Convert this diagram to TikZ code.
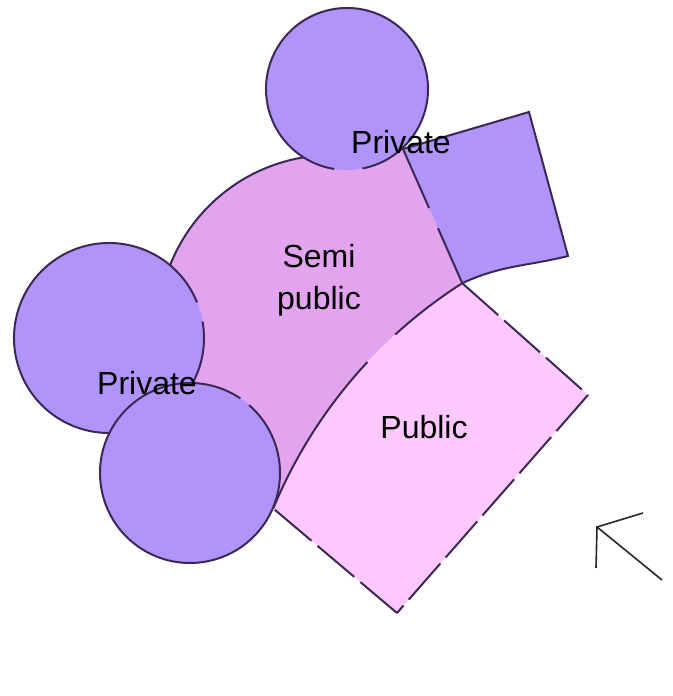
\documentclass[tikz,border=0pt]{standalone}
\usepackage{fontspec}
\setmainfont{Liberation Sans}
\usetikzlibrary{calc}
\definecolor{privfill}{RGB}{176,148,250}
\definecolor{semifill}{RGB}{226,164,238}
\definecolor{pubfill}{RGB}{255,200,255}
\definecolor{wallcol}{RGB}{60,40,85}
\tikzset{
every picture/.style={
line width=1pt
},
wall/.style={draw=wallcol, line width=1pt},
door/.style={wall, dash pattern=on 24pt off 4pt},
roomtext/.style={font=\fontsize{16}{21}\selectfont, align=center, inner sep=0pt},
northarrow/.style={draw=black!85, line width=0.8pt}
}
\begin{document}
\begin{tikzpicture}[x=0.5pt,y=0.5pt]
\useasboundingbox (0,0) rectangle (673,696);
\coordinate (semic) at (332,367);
\coordinate (pubc) at (725,0.4);
\coordinate (A) at (403,547);
\coordinate (B) at (529,584);
\coordinate (C) at (568,440);
\coordinate (D) at ([shift={(122.5:489)}]pubc);
\coordinate (L) at ([shift={(157.5:489)}]pubc);
\coordinate (R) at (588,301);
\coordinate (Bt) at (397,83);

\fill[semifill] ([shift={(170:174)}]semic) arc[start angle=170, end angle=95, radius=174] -- (A) -- (D) arc[start angle=122.5, end angle=157.5, radius=489] -- (190,223) -- (109,358) -- cycle;
\draw[wall] ([shift={(170:174)}]semic) arc[start angle=170, end angle=95, radius=174];

\fill[pubfill] (L) arc[start angle=157.5, end angle=122.5, radius=489] -- (R) -- (Bt) -- cycle;
\draw[wall] (L) arc[start angle=157.5, end angle=137, radius=489];
\draw[wall] ([shift={(132.4:489)}]pubc) arc[start angle=132.4, end angle=122.5, radius=489];
\draw[door] (D) -- (R);
\draw[door] (R) -- (Bt);
\draw[door] (Bt) -- (L);

\fill[privfill] (A) -- (B) -- (C) to[out=194,in=25] (D) -- cycle;
\draw[wall] ($(A)!0.44!(D)$) -- (A) -- (B) -- (C) to[out=194,in=25] (D) -- ($(A)!0.59!(D)$);

\foreach \cx/\cy/\r/\ga/\gz in {347/607/81/281/621, 109/358/95/22/370, 190/223/90/56/409}{
  \fill[privfill] (\cx,\cy) circle[radius=\r];
  \draw[wall] ([shift={(\ga:\r)}]\cx,\cy) arc[start angle=\ga, end angle=\gz, radius=\r];
}

\node[roomtext] (privtop) at (401,554) {Private};
\node[roomtext] (semi) at (319,416) {Semi\\public};
\node[roomtext] (privleft) at (147,313) {Private};
\node[roomtext] (pub) at (424,269) {Public};

\coordinate (ntail) at (662,116);
\coordinate (ntip) at (597,169);
\coordinate (nbarbl) at (643,183);
\coordinate (nbarbr) at (596,128);
\draw[northarrow] (ntail) -- (ntip);
\draw[northarrow] (nbarbl) -- (ntip) -- (nbarbr);
\end{tikzpicture}
\end{document}
